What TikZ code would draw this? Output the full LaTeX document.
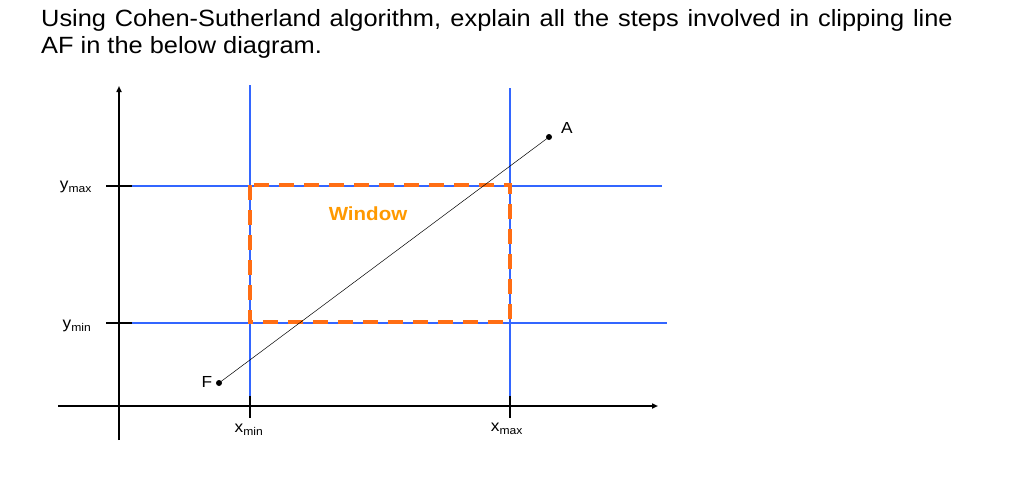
\documentclass[tikz,border=0pt]{standalone}
\usepackage{fontspec}
\setmainfont{Liberation Sans}
\usetikzlibrary{arrows.meta}
\definecolor{gridblue}{RGB}{51,102,255}
\definecolor{winorange}{RGB}{255,110,20}
\definecolor{labelorange}{RGB}{255,153,0}
\newcommand{\wide}[1]{\scalebox{1.08}[1]{#1}}
\tikzset{
  axis/.style={line width=2pt, black},
  axisarrow/.style={axis, -{Triangle[length=6pt,width=5pt]}},
  tick/.style={line width=2pt, black},
  bound/.style={line width=1.6pt, gridblue},
  window/.style={line width=3.2pt, winorange, dash pattern=on 15pt off 10pt},
  seg/.style={line width=0.5pt, black},
  dot/.style={circle, fill=black, inner sep=0pt, minimum size=6pt},
  lbl/.style={font=\fontsize{16}{18}\selectfont, inner sep=0pt},
  titletext/.style={anchor=base west, inner sep=0pt, font=\fontsize{23.5}{26}\selectfont},
}
\begin{document}
\begin{tikzpicture}[x=1pt,y=-1pt]
\useasboundingbox (0,0) rectangle (1024,479);
% title
\node[titletext] (t1) at (41,26)
  {\wide{\makebox[844pt][s]{Using Cohen-Sutherland algorithm, explain all the steps involved in clipping line}}};
\node[titletext] (t2) at (41,53)
  {\wide{AF in the below diagram.}};
% coordinates
\coordinate (yb) at (119,440);
\coordinate (yt) at (119,86);
\coordinate (xl) at (58,406);
\coordinate (xr) at (658,406);
% blue boundary lines
\coordinate (xminT) at (250,85);
\coordinate (xminB) at (250,396);
\coordinate (xmaxT) at (510,88);
\coordinate (xmaxB) at (510,396);
\coordinate (ymaxL) at (132,186);
\coordinate (ymaxR) at (662,186);
\coordinate (yminL) at (132,323);
\coordinate (yminR) at (667,323);
\draw[bound] (xminT) -- (xminB);
\draw[bound] (xmaxT) -- (xmaxB);
\draw[bound] (ymaxL) -- (ymaxR);
\draw[bound] (yminL) -- (yminR);
% axes
\draw[axisarrow] (yb) -- (yt);
\draw[axisarrow] (xl) -- (xr);
% ticks
\coordinate (tymaxL) at (106,186); \coordinate (tymaxR) at (132,186);
\coordinate (tyminL) at (106,323); \coordinate (tyminR) at (132,323);
\coordinate (txminT) at (250,396); \coordinate (txminB) at (250,418);
\coordinate (txmaxT) at (510,396); \coordinate (txmaxB) at (510,418);
\draw[tick] (tymaxL) -- (tymaxR);
\draw[tick] (tyminL) -- (tyminR);
\draw[tick] (txminT) -- (txminB);
\draw[tick] (txmaxT) -- (txmaxB);
% window
\coordinate (w1) at (250,185);
\coordinate (w2) at (510,322);
\draw[window] (w1) rectangle (w2);
\node[font=\bfseries\fontsize{19}{20}\selectfont, text=labelorange, inner sep=0pt] (win) at (368,214) {\wide{Window}};
% line AF
\node[dot] (A) at (549,137) {};
\node[dot] (F) at (219,383) {};
\draw[seg] (F.center) -- (A.center);
\node[lbl] (Alab) at (567,128) {\wide{A}};
\node[lbl] (Flab) at (207,382) {\wide{F}};
% axis labels
\node[lbl] (ymax) at (76,187) {\wide{y\textsubscript{max}}};
\node[lbl] (ymin) at (77,326) {\wide{y\textsubscript{min}}};
\node[lbl] (xmin) at (249,430) {\wide{x\textsubscript{min}}};
\node[lbl] (xmax) at (507,429) {\wide{x\textsubscript{max}}};
\end{tikzpicture}
\end{document}
